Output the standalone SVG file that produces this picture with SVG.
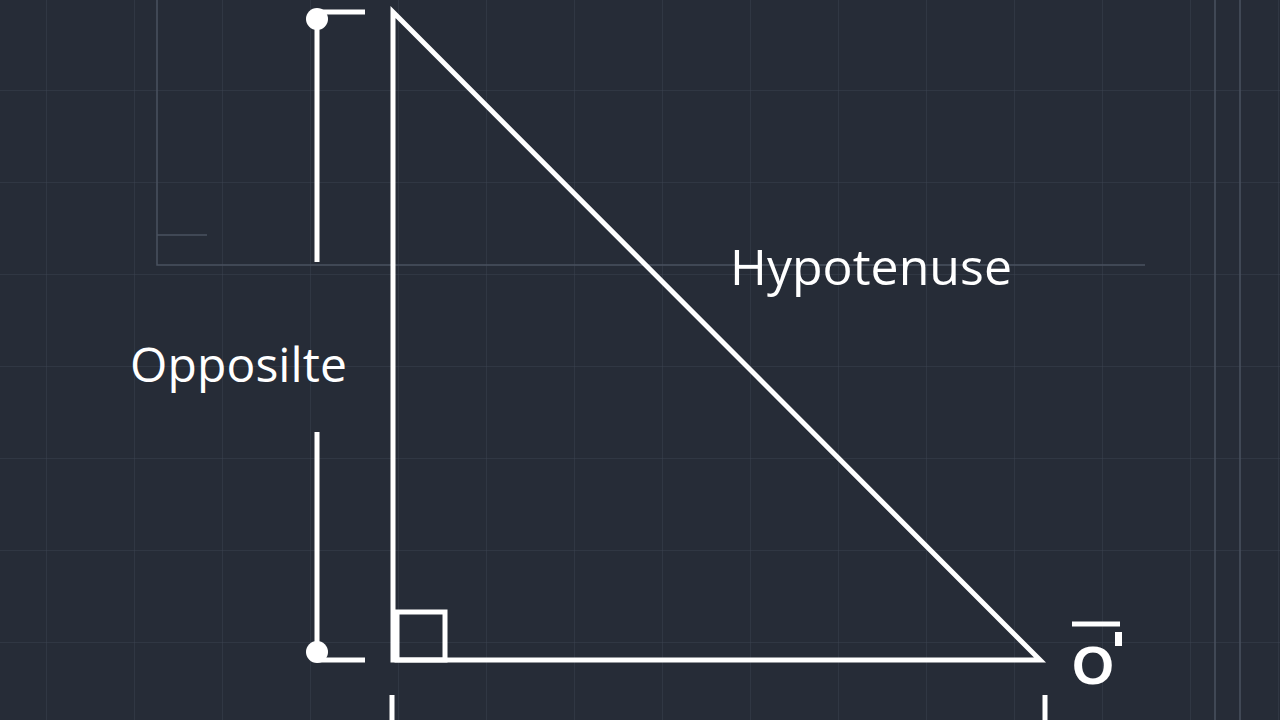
<svg xmlns="http://www.w3.org/2000/svg" width="1280" height="720" viewBox="0 0 1280 720">
<defs>
<style>
.w{stroke:#fff;stroke-width:5;fill:none}
.g{stroke:#3a4250;stroke-width:1}
.f{stroke:#4a5260;stroke-width:1.5;fill:none}
.t{fill:#fff;font-family:"Open Sans","Noto Sans",sans-serif}
</style>
<pattern id="grid" width="88" height="92" patternUnits="userSpaceOnUse" x="46" y="-2">
<path d="M0 0V92M0 0H88" class="g"/>
</pattern>
</defs>
<rect width="1280" height="720" fill="#262c37"/>
<rect width="1280" height="720" fill="url(#grid)"/>
<g id="faint">
<path class="f" d="M157 0V265H1145M157 235H207M1240 0V720M1215 0V720"/>
</g>
<g id="triangle">
<path class="w" d="M393 12V660H1040Z" stroke-linejoin="miter"/>
<rect x="397" y="612" width="48" height="48" class="w" stroke-width="4"/>
</g>
<g id="connectors">
<path class="w" d="M317 19V262M317 432V652M317 12H365M317 660H365M392 695V720M1045 695V720M1072 624H1120"/>
<circle cx="317" cy="19" r="11" fill="#fff"/>
<circle cx="317" cy="652" r="11" fill="#fff"/>
</g>
<g id="labels">
<text class="t" x="730" y="285" font-size="50" textLength="282">Hypotenuse</text>
<text class="t" x="130" y="382" font-size="48" textLength="217">Opposilte</text>
<text x="1072" y="684" font-size="54" font-weight="bold" fill="#fff" font-family="Liberation Sans,sans-serif">O</text>
<rect x="1115" y="632" width="7" height="14" fill="#fff"/>
</g>
</svg>
